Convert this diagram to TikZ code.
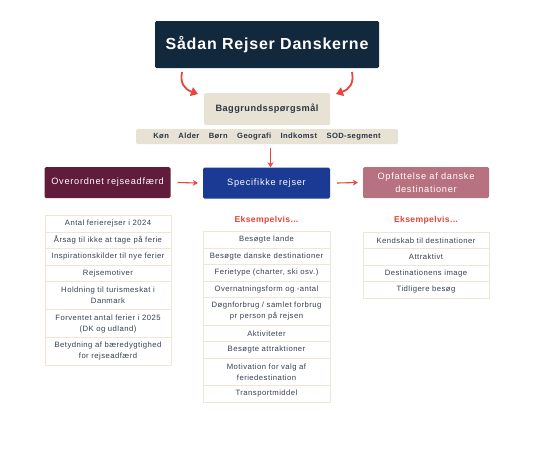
\documentclass[tikz,border=0pt]{standalone}
\usepackage{fontspec}
\setmainfont{Liberation Sans}
\usetikzlibrary{arrows.meta}
\definecolor{navy}{HTML}{12283C}
\definecolor{beige}{HTML}{E7E2D4}
\definecolor{maroon}{HTML}{621C3B}
\definecolor{royal}{HTML}{1A3A94}
\definecolor{rose}{HTML}{B8717F}
\definecolor{redarrow}{HTML}{E6463C}
\definecolor{itemborder}{HTML}{EFE6D6}
\definecolor{itemtext}{HTML}{344050}
\definecolor{darktext}{HTML}{2B3545}
\begin{document}
\begin{tikzpicture}[x=1pt,y=-1pt,
  titlebox/.style={fill=navy, rounded corners=1.5pt, minimum width=224pt, minimum height=47pt, inner sep=0pt, text=white,
    font=\fontsize{16}{18}\selectfont\bfseries\addfontfeatures{LetterSpace=5}},
  bgbox/.style={fill=beige, rounded corners=1.5pt, inner sep=0pt, text=darktext},
  catbox/.style={rounded corners=1.5pt, minimum width=126pt, minimum height=31pt, inner sep=0pt, text=white, align=center,
    font=\fontsize{9.2}{13}\selectfont\addfontfeatures{LetterSpace=8}},
  item/.style={draw=itemborder, fill=white, line width=0.8pt, minimum width=126pt, text width=124pt, align=center, inner sep=0pt,
    text=itemtext, font=\fontsize{7.7}{11}\selectfont\addfontfeatures{LetterSpace=6}},
  example/.style={text=redarrow, inner sep=0pt, font=\fontsize{8.6}{10}\selectfont\bfseries\addfontfeatures{LetterSpace=4}},
  curvearrow/.style={draw=redarrow, line width=1.8pt, -{Triangle[length=7pt,width=9pt]}},
  thinarrow/.style={draw=redarrow, line width=1.1pt, -{Stealth[length=5pt,width=6pt]}}
]
\useasboundingbox[fill=white] (0,0) rectangle (534,448);

% title
\node[titlebox] (title) at (267,44.5) {Sådan Rejser Danskerne};

% background
\node[bgbox, minimum width=126pt, minimum height=32pt, font=\fontsize{9.2}{11}\selectfont\bfseries\addfontfeatures{LetterSpace=5}] (bg) at (267,109) {Baggrundsspørgsmål};
\node[bgbox, minimum width=262pt, minimum height=15pt, font=\fontsize{7.6}{9}\selectfont\bfseries\addfontfeatures{LetterSpace=5}] (demo) at (267,136.5)
  {Køn\hspace*{9.5pt}Alder\hspace*{9.5pt}Børn\hspace*{9.5pt}Geografi\hspace*{9.5pt}Indkomst\hspace*{9.5pt}SOD-segment};

\coordinate (la) at (182,72);
\coordinate (ra) at (352,72);
\coordinate (lae) at (198,94);
\coordinate (rae) at (336,94);
\draw[curvearrow] (la) .. controls (180,83) and (184,89) .. (lae);
\draw[curvearrow] (ra) .. controls (354,83) and (350,89) .. (rae);

% categories
\node[catbox, fill=maroon] (over) at (107.5,182.5) {Overordnet rejseadfærd};
\node[catbox, fill=royal, minimum width=127pt] (spec) at (266.5,183) {Specifikke rejser};
\node[catbox, fill=rose] (opf) at (426,182.5) {Opfattelse af danske\\destinationer};

\coordinate (dtop) at (270.5,148);
\draw[thinarrow] (dtop) -- (spec.north -| dtop);
\draw[thinarrow] ([xshift=7pt]over.east) -- ([xshift=-5pt]spec.west);
\draw[thinarrow] ([xshift=7pt]spec.east) -- ([xshift=-5pt]opf.west);

% left list
\node[item, minimum height=16.5pt] (l1) at (108,223.75) {Antal ferierejser i 2024};
\node[item, minimum height=16.5pt] (l2) at (108,240.25) {Årsag til ikke at tage på ferie};
\node[item, minimum height=16.5pt] (l3) at (108,256.75) {Inspirationskilder til nye ferier};
\node[item, minimum height=16.5pt] (l4) at (108,273.25) {Rejsemotiver};
\node[item, minimum height=28pt] (l5) at (108,295.5) {Holdning til turismeskat i\\Danmark};
\node[item, minimum height=28pt] (l6) at (108,323.5) {Forventet antal ferier i 2025\\(DK og udland)};
\node[item, minimum height=27.5pt] (l7) at (108,351.25) {Betydning af bæredygtighed\\for rejseadfærd};

% middle list
\node[example] (ex1) at (266.5,220) {Eksempelvis...};
\node[item, minimum width=127pt, minimum height=16.5pt] (m1) at (266.5,239.75) {Besøgte lande};
\node[item, minimum width=127pt, minimum height=16.5pt] (m2) at (266.5,256.25) {Besøgte danske destinationer};
\node[item, minimum width=127pt, minimum height=16.5pt] (m3) at (266.5,272.75) {Ferietype (charter, ski osv.)};
\node[item, minimum width=127pt, minimum height=16.5pt] (m4) at (266.5,289.25) {Overnatningsform og -antal};
\node[item, minimum width=127pt, minimum height=27.5pt] (m5) at (266.5,311.25) {Døgnforbrug / samlet forbrug\\pr person på rejsen};
\node[item, minimum width=127pt, minimum height=16.5pt] (m6) at (266.5,333.25) {Aktiviteter};
\node[item, minimum width=127pt, minimum height=16.5pt] (m7) at (266.5,349.75) {Besøgte attraktioner};
\node[item, minimum width=127pt, minimum height=27.5pt] (m8) at (266.5,371.75) {Motivation for valg af\\feriedestination};
\node[item, minimum width=127pt, minimum height=16.5pt] (m9) at (266.5,393.75) {Transportmiddel};

% right list
\node[example] (ex2) at (426,220) {Eksempelvis...};
\node[item, minimum height=16.5pt] (r1) at (426,240.25) {Kendskab til destinationer};
\node[item, minimum height=16.5pt] (r2) at (426,256.75) {Attraktivt};
\node[item, minimum height=16.5pt] (r3) at (426,273.25) {Destinationens image};
\node[item, minimum height=16.5pt] (r4) at (426,289.75) {Tidligere besøg};
\end{tikzpicture}
\end{document}
